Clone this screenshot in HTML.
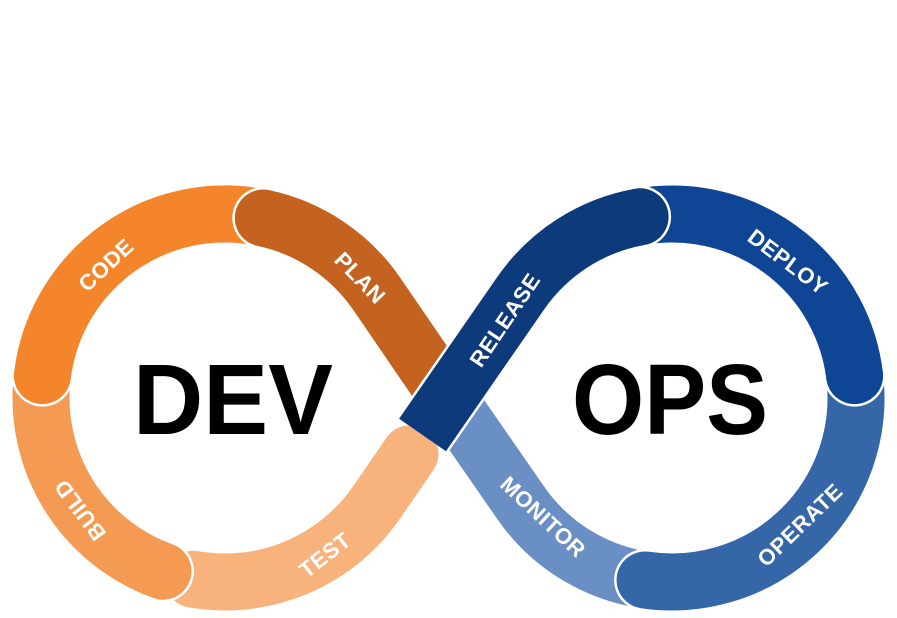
<!DOCTYPE html>
<html><head><meta charset="utf-8"><style>
html,body{margin:0;padding:0;background:#fff;}
svg{display:block;}
text.l{font-family:"Liberation Sans",sans-serif;font-weight:bold;font-size:22px;letter-spacing:0.5px;fill:#fff;text-anchor:middle;dominant-baseline:central;}
text.b{font-family:"Liberation Sans",sans-serif;font-weight:bold;font-size:100px;fill:#000;text-anchor:middle;}
</style></head><body>
<svg width="897" height="618" viewBox="0 0 897 618" xmlns="http://www.w3.org/2000/svg">
<g fill="none">
<path d="M193.1 579.2 A184 184 0 0 0 376.5 502.5 L410 453.8" stroke="#fff" stroke-width="62" stroke-linecap="round"/>
<path d="M193.1 579.2 A184 184 0 0 0 376.5 502.5 L410 453.8" stroke="#F8B27C" stroke-width="57" stroke-linecap="round"/>
<path d="M163 571.2 A184 184 0 0 1 43.8 366.1" stroke="#fff" stroke-width="62" stroke-linecap="round"/>
<path d="M163 571.2 A184 184 0 0 1 43.8 366.1" stroke="#F59A52" stroke-width="57" stroke-linecap="round"/>
<path d="M42.4 375.6 A184 184 0 0 1 263.3 218" stroke="#fff" stroke-width="62" stroke-linecap="round"/>
<path d="M42.4 375.6 A184 184 0 0 1 263.3 218" stroke="#F5852A" stroke-width="57" stroke-linecap="round"/>
<path d="M263.3 218 A184 184 0 0 1 376.5 293.5 L448 398" stroke="#fff" stroke-width="62" stroke-linecap="round"/>
<path d="M263.3 218 A184 184 0 0 1 376.5 293.5 L448 398" stroke="#C4621F" stroke-width="57" stroke-linecap="round"/>
<path d="M448 398 L520.5 502.5 A184 184 0 0 0 665.6 581.9" stroke="#fff" stroke-width="62" stroke-linecap="round"/>
<path d="M448 398 L520.5 502.5 A184 184 0 0 0 665.6 581.9" stroke="#6A8FC4" stroke-width="57" stroke-linecap="round"/>
<path d="M855.3 382 A184 184 0 0 1 645.1 580" stroke="#fff" stroke-width="62" stroke-linecap="round"/>
<path d="M855.3 382 A184 184 0 0 1 645.1 580" stroke="#3566A8" stroke-width="57" stroke-linecap="round"/>
<path d="M656 214.7 A184 184 0 0 1 854.6 375.6" stroke="#fff" stroke-width="62" stroke-linecap="round"/>
<path d="M656 214.7 A184 184 0 0 1 854.6 375.6" stroke="#0E4594" stroke-width="57" stroke-linecap="round"/>
<path d="M422.5 435 L520.5 293.5 A184 184 0 0 1 640.1 216.8" stroke="#fff" stroke-width="62" stroke-linecap="butt"/>
<circle cx="640.1" cy="216.8" r="31" fill="#fff" stroke="none"/>
<path d="M422.5 435 L520.5 293.5 A184 184 0 0 1 640.1 216.8" stroke="#0D3A7A" stroke-width="57" stroke-linecap="butt"/>
<circle cx="640.1" cy="216.8" r="28.5" fill="#0D3A7A" stroke="none"/>
</g>
<text class="l" transform="translate(106,265) rotate(-43)">CODE</text>
<text class="l" transform="translate(360,278) rotate(46)">PLAN</text>
<text class="l" transform="translate(80,510) rotate(233)">BUILD</text>
<text class="l" transform="translate(325,555) rotate(-38)">TEST</text>
<text class="l" transform="translate(505,320) rotate(-56)">RELEASE</text>
<text class="l" transform="translate(788,262) rotate(37)">DEPLOY</text>
<text class="l" transform="translate(800,525) rotate(-44)">OPERATE</text>
<text class="l" transform="translate(543,517) rotate(43)">MONITOR</text>
<text class="b" x="233" y="434" textLength="200" lengthAdjust="spacingAndGlyphs">DEV</text>
<text class="b" x="670" y="434" textLength="196" lengthAdjust="spacingAndGlyphs">OPS</text>
</svg>
</body></html>
